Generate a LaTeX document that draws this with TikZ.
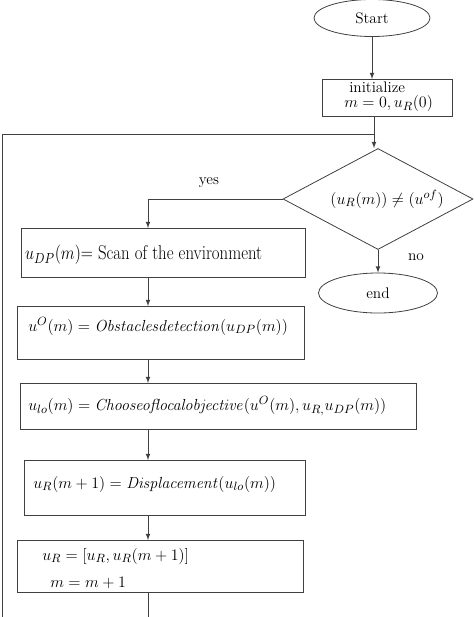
\documentclass[tikz,border=0pt]{standalone}
\usetikzlibrary{shapes.geometric}

\begin{document}
\begin{tikzpicture}[x=0.75pt,y=-0.75pt,
    line/.style={draw=black!75,semithick},
    link/.style={line,-latex},
    box/.style={line,rectangle,inner sep=0pt,anchor=north west},
    term/.style={line,ellipse,inner sep=0pt},
    txt/.style={anchor=west,inner sep=0pt,font=\fontsize{12.8}{15}\selectfont},
    lbl/.style={inner sep=0pt,font=\fontsize{11.5}{13}\selectfont}]
    \useasboundingbox (0,0) rectangle (474,617);

    % start and initialisation
    \node[term,minimum width=0.75*116,minimum height=0.75*37] (start) at (372,18)
        {\fontsize{11.5}{13}\selectfont Start};
    \node[box,minimum width=0.75*130,minimum height=0.75*37] (init) at (322,79) {};
    \node[txt,font=\fontsize{11.5}{13}\selectfont] (tinit1) at (349,87) {initialize};
    \node[txt] (tinit2) at (344,104) {$m=0,u_R(0)$};

    % test
    \node[line,diamond,aspect=1.9,inner sep=0pt,minimum width=0.75*190,minimum height=0.75*101] (test) at (378,199) {};
    \node[txt,anchor=center] (ttest) at (387,199) {$(u_R(m))\neq(u^{of})$};
    \node[term,minimum width=0.75*119,minimum height=0.75*40] (end) at (378,293)
        {\fontsize{11.5}{13}\selectfont end};

    % loop body
    \node[box,minimum width=0.75*284,minimum height=0.75*49] (b1) at (21,228) {};
    \node[txt,font=\fontsize{15}{18}\selectfont,xscale=0.84] (t1) at (25,255)
        {$u_{DP}(m)$= Scan of the environment};
    \node[box,minimum width=0.75*287,minimum height=0.75*53] (b2) at (17,306) {};
    \node[txt] (t2) at (28,326) {$u^O(m)=\mathit{Obstaclesdetection}(u_{DP}(m))$};
    \node[box,minimum width=0.75*396,minimum height=0.75*46] (b3) at (20,383) {};
    \node[txt] (t3) at (28,406) {$u_{lo}(m)=\mathit{Chooseoflocalobjective}(u^O(m),u_{R,}u_{DP}(m))$};
    \node[box,minimum width=0.75*281,minimum height=0.75*55] (b4) at (24,460) {};
    \node[txt] (t4) at (33,484) {$u_R(m+1)=\mathit{Displacement}(u_{lo}(m))$};
    \node[box,minimum width=0.75*286,minimum height=0.75*52] (b5) at (17,540) {};
    \node[txt] (t5a) at (42,556) {$u_R=[u_R,u_R(m+1)]$};
    \node[txt] (t5b) at (50,583) {$m=m+1$};

    \coordinate (join) at (374,134);
    \coordinate (yes) at (148,199);
    \coordinate (out) at (148,617);
    \coordinate (back) at (2,617);

    % connectors
    \draw[link] (start) -- (start |- init.north);
    \draw[line] (join |- init.south) -- (join);
    \draw[link] (join) -- (join |- test.north);
    \draw[line] (back) -- (back |- join) -- (join);
    \draw[link] (test.west) -- (yes) -- (b1.north -| yes);
    \draw[link] (test.south) -- (test.south |- end.north);
    \foreach \a/\b in {b1/b2,b2/b3,b3/b4,b4/b5} {
        \draw[link] (\a.south -| yes) -- (\b.north -| yes);
    }
    \draw[line] (b5.south -| out) -- (out);

    \node[lbl] (lyes) at (209,183) {yes};
    \node[lbl] (lno) at (416,257) {no};
\end{tikzpicture}
\end{document}
